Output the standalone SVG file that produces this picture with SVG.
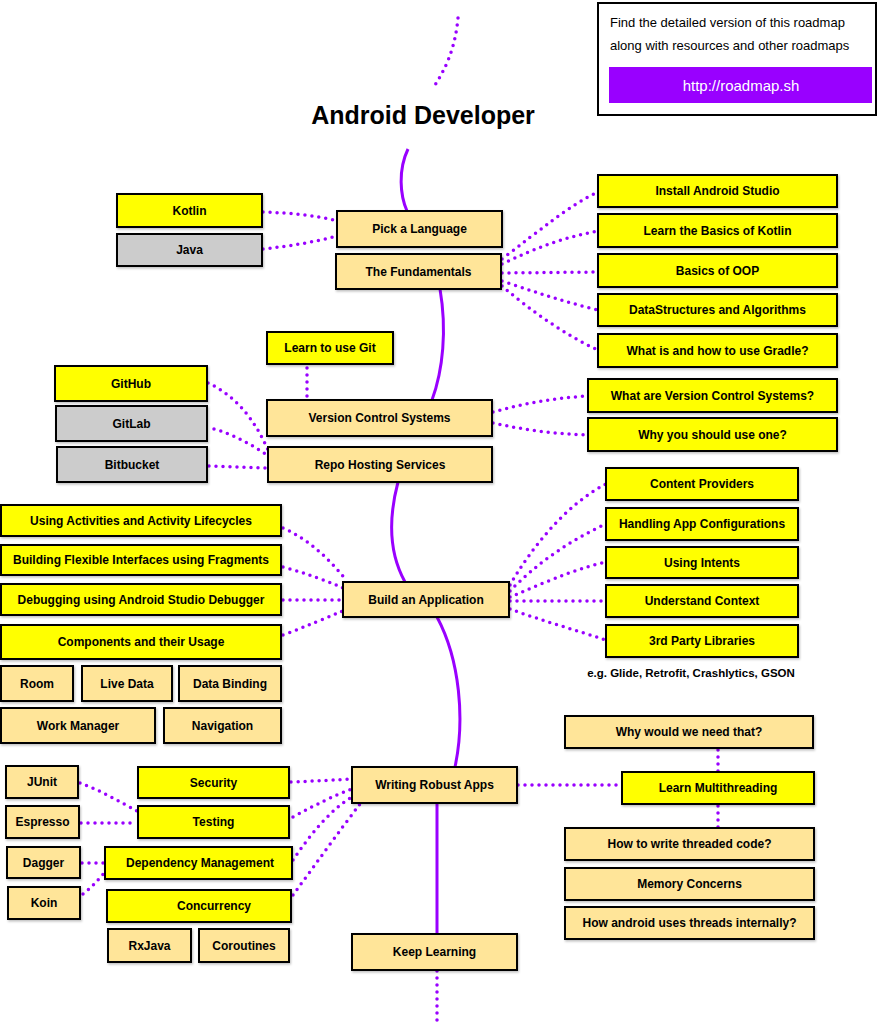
<svg xmlns="http://www.w3.org/2000/svg" width="886" height="1024" viewBox="0 0 886 1024">
<defs>
<filter id="sh" x="-10%" y="-20%" width="120%" height="150%"><feDropShadow dx="1" dy="1.5" stdDeviation="1" flood-color="#000" flood-opacity="0.25"/></filter>
<style>
rect.n{stroke:#000;stroke-width:2;filter:url(#sh)}
.y{fill:#ffff00}.o{fill:#ffe599}.g{fill:#cccccc}
text{font-family:"Liberation Sans",Arial,sans-serif;fill:#000}
.l{font-weight:bold;font-size:12px;text-anchor:middle;dominant-baseline:central}
.dot{stroke:#9900ff;stroke-width:3.5;stroke-dasharray:0 7;stroke-linecap:round;fill:none}
.sol{stroke:#9900ff;stroke-width:3;fill:none}
</style>
</defs>
<rect width="886" height="1024" fill="#fff"/>
<g id="connectors">
<path class="dot" d="M458,18 C455,50 445,70 433,88"/>
<path class="sol" d="M408,149 C398,170 400,195 407,211"/>
<path class="sol" d="M440,289 C447,330 443,370 432,400"/>
<path class="sol" d="M398,482 C388,520 390,555 405,582"/>
<path class="sol" d="M437,617 C460,660 465,720 455,767"/>
<path class="sol" d="M437,803 L437,934"/>
<path class="dot" d="M437,971 L437,1024"/>
<path class="dot" d="M263,212 C290,213 315,215 337,221"/>
<path class="dot" d="M263,249 C290,246 315,242 337,236"/>
<path class="dot" d="M502,259 C540,230 570,205 598,192"/>
<path class="dot" d="M502,264 C535,248 565,237 598,231"/>
<path class="dot" d="M502,273 L598,272"/>
<path class="dot" d="M502,281 C535,292 565,302 598,310"/>
<path class="dot" d="M502,286 C530,310 565,335 598,350"/>
<path class="dot" d="M307,368 L307,398"/>
<path class="dot" d="M208,383 C235,395 255,420 268,450"/>
<path class="dot" d="M214,429 C235,435 252,445 267,455"/>
<path class="dot" d="M209,466 L268,468"/>
<path class="dot" d="M493,412 C525,403 555,398 588,396"/>
<path class="dot" d="M493,423 C525,430 555,434 588,435"/>
<path class="dot" d="M283,528 C310,540 330,560 347,581"/>
<path class="dot" d="M283,567 C305,573 325,580 343,588"/>
<path class="dot" d="M283,600 L343,600"/>
<path class="dot" d="M283,635 C305,627 325,618 343,611"/>
<path class="dot" d="M510,585 C530,550 565,505 606,484"/>
<path class="dot" d="M510,591 C535,565 570,540 606,524"/>
<path class="dot" d="M510,597 C540,585 570,570 606,562"/>
<path class="dot" d="M510,601 L606,601"/>
<path class="dot" d="M510,609 C540,620 575,630 606,640"/>
<path class="dot" d="M518,785 L622,785"/>
<path class="dot" d="M718,750 L718,772"/>
<path class="dot" d="M718,806 L718,828"/>
<path class="dot" d="M291,782 C315,781 335,780 352,779"/>
<path class="dot" d="M293,817 C315,805 335,795 352,789"/>
<path class="dot" d="M293,860 C310,835 330,810 352,797"/>
<path class="dot" d="M293,895 C315,865 340,830 360,804"/>
<path class="dot" d="M80,783 C100,790 120,802 137,811"/>
<path class="dot" d="M81,823 L137,823"/>
<path class="dot" d="M82,863 L105,863"/>
<path class="dot" d="M83,894 C92,887 98,880 105,872"/>
</g>
<g id="info">
<rect x="598" y="3" width="278" height="112" fill="#fff" stroke="#000" stroke-width="2"/>
<text x="610" y="27" font-size="13">Find the detailed version of this roadmap</text>
<text x="610" y="50" font-size="13">along with resources and other roadmaps</text>
<rect x="609" y="67" width="263" height="36" fill="#9900ff"/>
<text x="741" y="85" font-size="15" fill="#fff" style="fill:#fff;text-anchor:middle;dominant-baseline:central">http://roadmap.sh</text>
</g>
<g id="title"><text x="423" y="124" font-size="25" font-weight="bold" text-anchor="middle">Android Developer</text></g>
<g id="kotlin"><rect class="n y" x="117" y="194" width="145" height="33"/><text class="l" x="189.5" y="210.5">Kotlin</text></g>
<g id="java"><rect class="n g" x="117" y="234" width="145" height="32"/><text class="l" x="189.5" y="250">Java</text></g>
<g id="pick-language"><rect class="n o" x="337" y="211" width="165" height="36"/><text class="l" x="419.5" y="229">Pick a Language</text></g>
<g id="fundamentals"><rect class="n o" x="336" y="254" width="165" height="35"/><text class="l" x="418.5" y="271.5">The Fundamentals</text></g>
<g id="install-studio"><rect class="n y" x="598" y="175" width="239" height="32"/><text class="l" x="717.5" y="191">Install Android Studio</text></g>
<g id="kotlin-basics"><rect class="n y" x="598" y="214" width="239" height="33"/><text class="l" x="717.5" y="230.5">Learn the Basics of Kotlin</text></g>
<g id="oop"><rect class="n y" x="598" y="254" width="239" height="33"/><text class="l" x="717.5" y="270.5">Basics of OOP</text></g>
<g id="dsa"><rect class="n y" x="598" y="294" width="239" height="32"/><text class="l" x="717.5" y="310">DataStructures and Algorithms</text></g>
<g id="gradle"><rect class="n y" x="598" y="334" width="239" height="33"/><text class="l" x="717.5" y="350.5">What is and how to use Gradle?</text></g>
<g id="learn-git"><rect class="n y" x="267" y="332" width="126" height="32"/><text class="l" x="330" y="348">Learn to use Git</text></g>
<g id="github"><rect class="n y" x="55" y="366" width="152" height="35"/><text class="l" x="131" y="383.5">GitHub</text></g>
<g id="gitlab"><rect class="n g" x="56" y="406" width="151" height="35"/><text class="l" x="131.5" y="423.5">GitLab</text></g>
<g id="bitbucket"><rect class="n g" x="57" y="447" width="150" height="35"/><text class="l" x="132" y="464.5">Bitbucket</text></g>
<g id="vcs"><rect class="n o" x="267" y="400" width="225" height="36"/><text class="l" x="379.5" y="418">Version Control Systems</text></g>
<g id="repo-hosting"><rect class="n o" x="268" y="447" width="224" height="35"/><text class="l" x="380" y="464.5">Repo Hosting Services</text></g>
<g id="what-vcs"><rect class="n y" x="588" y="379" width="249" height="33"/><text class="l" x="712.5" y="395.5">What are Version Control Systems?</text></g>
<g id="why-vcs"><rect class="n y" x="588" y="418" width="249" height="33"/><text class="l" x="712.5" y="434.5">Why you should use one?</text></g>
<g id="activities"><rect class="n y" x="1" y="505" width="280" height="31"/><text class="l" x="141" y="520.5">Using Activities and Activity Lifecycles</text></g>
<g id="fragments"><rect class="n y" x="1" y="545" width="280" height="30"/><text class="l" x="141" y="560">Building Flexible Interfaces using Fragments</text></g>
<g id="debugging"><rect class="n y" x="1" y="584" width="280" height="31"/><text class="l" x="141" y="599.5">Debugging using Android Studio Debugger</text></g>
<g id="components"><rect class="n y" x="1" y="625" width="280" height="34"/><text class="l" x="141" y="642">Components and their Usage</text></g>
<g id="room"><rect class="n o" x="1" y="666" width="72" height="35"/><text class="l" x="37" y="683.5">Room</text></g>
<g id="live-data"><rect class="n o" x="82" y="666" width="90" height="35"/><text class="l" x="127" y="683.5">Live Data</text></g>
<g id="data-binding"><rect class="n o" x="179" y="666" width="102" height="35"/><text class="l" x="230" y="683.5">Data Binding</text></g>
<g id="work-manager"><rect class="n o" x="1" y="708" width="154" height="35"/><text class="l" x="78" y="725.5">Work Manager</text></g>
<g id="navigation"><rect class="n o" x="164" y="708" width="117" height="35"/><text class="l" x="222.5" y="725.5">Navigation</text></g>
<g id="build-app"><rect class="n o" x="343" y="582" width="166" height="35"/><text class="l" x="426" y="599.5">Build an Application</text></g>
<g id="content-providers"><rect class="n y" x="606" y="468" width="192" height="32"/><text class="l" x="702" y="484">Content Providers</text></g>
<g id="app-config"><rect class="n y" x="606" y="508" width="192" height="32"/><text class="l" x="702" y="524">Handling App Configurations</text></g>
<g id="intents"><rect class="n y" x="606" y="547" width="192" height="31"/><text class="l" x="702" y="562.5">Using Intents</text></g>
<g id="context"><rect class="n y" x="606" y="585" width="192" height="32"/><text class="l" x="702" y="601">Understand Context</text></g>
<g id="third-party"><rect class="n y" x="606" y="625" width="192" height="32"/><text class="l" x="702" y="641">3rd Party Libraries</text></g>
<g id="libs-caption"><text class="l" x="691" y="673" style="font-size:11.5px">e.g. Glide, Retrofit, Crashlytics, GSON</text></g>
<g id="robust-apps"><rect class="n o" x="352" y="767" width="165" height="36"/><text class="l" x="434.5" y="785">Writing Robust Apps</text></g>
<g id="keep-learning"><rect class="n o" x="352" y="934" width="165" height="36"/><text class="l" x="434.5" y="952">Keep Learning</text></g>
<g id="why-need"><rect class="n o" x="565" y="716" width="248" height="32"/><text class="l" x="689" y="732">Why would we need that?</text></g>
<g id="multithreading"><rect class="n y" x="622" y="772" width="192" height="32"/><text class="l" x="718" y="788">Learn Multithreading</text></g>
<g id="threaded-code"><rect class="n o" x="565" y="828" width="249" height="32"/><text class="l" x="689.5" y="844">How to write threaded code?</text></g>
<g id="memory"><rect class="n o" x="565" y="868" width="249" height="32"/><text class="l" x="689.5" y="884">Memory Concerns</text></g>
<g id="threads-internal"><rect class="n o" x="565" y="907" width="249" height="32"/><text class="l" x="689.5" y="923">How android uses threads internally?</text></g>
<g id="security"><rect class="n y" x="138" y="767" width="151" height="31"/><text class="l" x="213.5" y="782.5">Security</text></g>
<g id="testing"><rect class="n y" x="138" y="806" width="151" height="32"/><text class="l" x="213.5" y="822">Testing</text></g>
<g id="dependency"><rect class="n y" x="105" y="847" width="187" height="32"/><text class="l" x="200" y="863">Dependency Management</text></g>
<g id="concurrency"><rect class="n y" x="107" y="890" width="184" height="32"/><text class="l" x="214" y="906">Concurrency</text></g>
<g id="rxjava"><rect class="n o" x="108" y="929" width="83" height="33"/><text class="l" x="149.5" y="945.5">RxJava</text></g>
<g id="coroutines"><rect class="n o" x="199" y="929" width="90" height="33"/><text class="l" x="244" y="945.5">Coroutines</text></g>
<g id="junit"><rect class="n o" x="6" y="766" width="72" height="32"/><text class="l" x="42" y="782">JUnit</text></g>
<g id="espresso"><rect class="n o" x="6" y="806" width="73" height="32"/><text class="l" x="42.5" y="822">Espresso</text></g>
<g id="dagger"><rect class="n o" x="7" y="847" width="73" height="31"/><text class="l" x="43.5" y="862.5">Dagger</text></g>
<g id="koin"><rect class="n o" x="8" y="887" width="72" height="32"/><text class="l" x="44" y="903">Koin</text></g>
</svg>
